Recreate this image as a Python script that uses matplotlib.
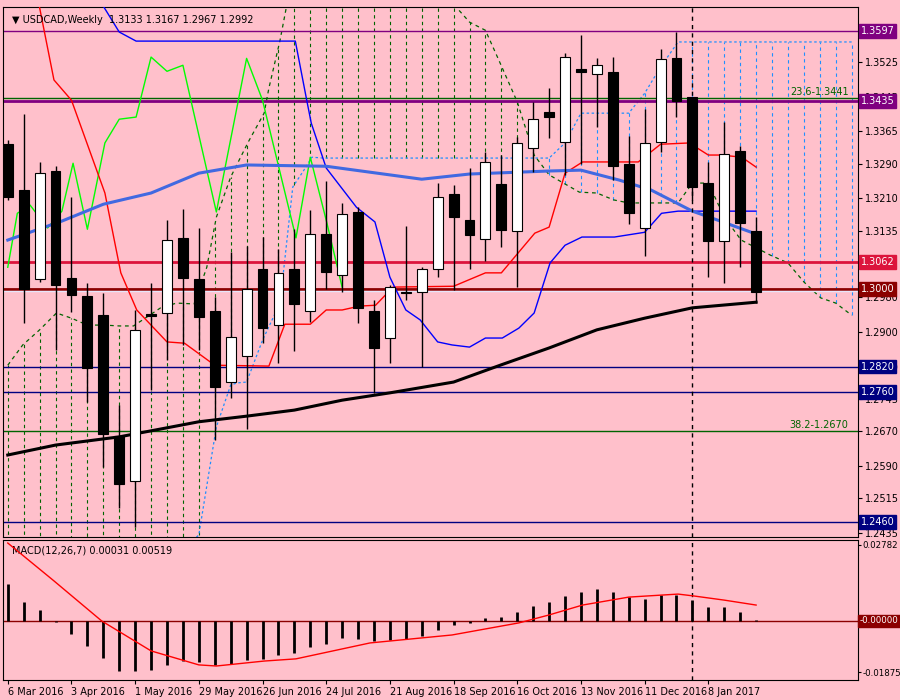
import matplotlib
matplotlib.use("Agg")
import matplotlib.pyplot as plt
import numpy as np

plt.rcParams["font.family"] = ["DejaVu Sans"]
plt.rcParams["font.size"] = 7

PINK = "#FFC0CB"

# weekly candles, bar 0 = week of 6 Mar 2016
opens = [1.3335, 1.3229, 1.3023, 1.3273, 1.3025, 1.2983, 1.2939, 1.2659, 1.2555, 1.2942,
         1.2944, 1.3118, 1.3023, 1.2949, 1.2784, 1.2844, 1.3046, 1.2916, 1.3046, 1.2949,
         1.3127, 1.3032, 1.3178, 1.2949, 1.2886, 1.2993, 1.2993, 1.3046, 1.3220, 1.3159,
         1.3115, 1.3243, 1.3134, 1.3326, 1.3409, 1.3340, 1.3509, 1.3497, 1.3502, 1.3289,
         1.3141, 1.3340, 1.3534, 1.3444, 1.3245, 1.3111, 1.3319, 1.3133]
highs = [1.3345, 1.3405, 1.3294, 1.3284, 1.3213, 1.3013, 1.2990, 1.2731, 1.2951, 1.3013,
         1.3159, 1.3185, 1.3141, 1.2981, 1.3085, 1.3099, 1.3120, 1.3092, 1.3138, 1.3182,
         1.3250, 1.3199, 1.3189, 1.2974, 1.3009, 1.3145, 1.3050, 1.3245, 1.3240, 1.3280,
         1.3317, 1.3310, 1.3352, 1.3433, 1.3465, 1.3546, 1.3588, 1.3534, 1.3537, 1.3354,
         1.3416, 1.3555, 1.3595, 1.3444, 1.3294, 1.3386, 1.3331, 1.3167]
lows = [1.3206, 1.2921, 1.3016, 1.2858, 1.2946, 1.2738, 1.2587, 1.2492, 1.2448, 1.2766,
        1.2835, 1.2870, 1.2858, 1.2650, 1.2747, 1.2675, 1.2874, 1.2828, 1.2856, 1.2923,
        1.2999, 1.2993, 1.2921, 1.2759, 1.2828, 1.2974, 1.2819, 1.3027, 1.2997, 1.3046,
        1.3064, 1.3097, 1.3004, 1.3270, 1.3349, 1.3264, 1.3289, 1.3375, 1.3252, 1.3150,
        1.3076, 1.3317, 1.3398, 1.3206, 1.3027, 1.3013, 1.3050, 1.2967]
closes = [1.3213, 1.2999, 1.3268, 1.3009, 1.2986, 1.2817, 1.2664, 1.2548, 1.2905, 1.2937,
          1.3113, 1.3025, 1.2935, 1.2773, 1.2888, 1.2999, 1.2909, 1.3037, 1.2965, 1.3127,
          1.3039, 1.3173, 1.2956, 1.2863, 1.3004, 1.2990, 1.3046, 1.3213, 1.3166, 1.3125,
          1.3294, 1.3136, 1.3338, 1.3393, 1.3398, 1.3537, 1.3502, 1.3518, 1.3284, 1.3175,
          1.3338, 1.3532, 1.3435, 1.3236, 1.3111, 1.3312, 1.3152, 1.2992]

# indicator lines as (bar index, price) vertices
ma_black_x = [0, 3, 7, 12, 15, 18, 21, 24, 28, 31, 34, 37, 40, 43, 47]
ma_black_y = [1.2615, 1.2638, 1.2657, 1.2692, 1.2705, 1.2719, 1.2742, 1.2759, 1.2784, 1.2824,
              1.2863, 1.2905, 1.2932, 1.2956, 1.2969]
ma_blue_x = [0, 3.4, 6, 9, 12, 15, 20, 26, 29, 34, 36, 38.4, 40.4, 43, 44.6, 46.7]
ma_blue_y = [1.3113, 1.3157, 1.3196, 1.3222, 1.3268, 1.3287, 1.3284, 1.3254, 1.3266, 1.3273,
             1.3275, 1.3252, 1.3229, 1.3180, 1.3159, 1.3131]
tenkan_x = [1.9, 2.9, 4.0, 6.1, 7.1, 8.1, 10.0, 11.1, 13, 16.4, 17.4, 19, 20, 21, 22.1, 23.1,
            24.2, 28, 30, 31, 33.1, 34, 35, 36.1, 39.6, 41, 42.8, 44, 44.8, 46.1, 47]
tenkan_y = [1.3670, 1.3484, 1.3437, 1.3222, 1.3037, 1.2951, 1.2877, 1.2874, 1.2823, 1.2821,
            1.2918, 1.2918, 1.2951, 1.2951, 1.2960, 1.2962, 1.3004, 1.3006, 1.3037, 1.3037,
            1.3129, 1.3143, 1.3268, 1.3294, 1.3294, 1.3335, 1.3338, 1.3310, 1.3310, 1.3305, 1.3282]
kijun_x = [5.75, 7, 8.06, 18.06, 18.75, 19.06, 20, 21.9, 23.06, 24, 25, 25.9, 27, 27.9, 29, 30,
           31.06, 32.1, 33.06, 34.06, 35, 36.06, 38.1, 40, 41.06, 42.1, 47]
kijun_y = [1.3670, 1.3595, 1.3574, 1.3574, 1.3442, 1.3384, 1.3280, 1.3189, 1.3155, 1.3027,
           1.2951, 1.2928, 1.2877, 1.2870, 1.2865, 1.2886, 1.2886, 1.2909, 1.2944, 1.3060,
           1.3101, 1.3120, 1.3120, 1.3131, 1.3175, 1.3180, 1.3180]
chikou_x = [0, 0.6, 1.4, 2.5, 3.4, 4.1, 5, 6.1, 7, 8.06, 9, 10, 11, 13.1, 15, 16, 18.1, 19, 20, 21]
chikou_y = [1.3050, 1.3175, 1.3194, 1.3141, 1.3180, 1.3291, 1.3138, 1.3338, 1.3393, 1.3398,
            1.3537, 1.3504, 1.3518, 1.3178, 1.3534, 1.3437, 1.3118, 1.3305, 1.3159, 1.3004]
span_a_x = [0, 12, 13.1, 14, 14.4, 15, 16, 17.1, 17.9, 18.6, 19.1, 19.8, 27.9, 34, 35, 36, 39,
            40, 41, 42.1, 53]
span_a_y = [1.2000, 1.2430, 1.2680, 1.2777, 1.2782, 1.2784, 1.2881, 1.2967, 1.3236, 1.3275,
            1.3305, 1.3303, 1.3303, 1.3303, 1.3338, 1.3407, 1.3407, 1.3453, 1.3514, 1.3572, 1.3572]
span_b_x = [0, 0.94, 2, 3.06, 4, 5, 6.06, 7, 7.9, 9.6, 10.6, 11.7, 12.5, 13.1, 14, 15.1, 16.1,
            16.4, 17.1, 17.5, 19, 26, 28.06, 29, 30, 30.9, 32, 33.06, 34, 35.9, 37, 38.06, 39,
            42.1, 43, 44, 45, 46.06, 47.9, 49, 50, 51.06, 52, 53]
span_b_y = [1.2823, 1.2870, 1.2905, 1.2944, 1.2932, 1.2916, 1.2916, 1.2914, 1.2914, 1.2956,
            1.2967, 1.2965, 1.3050, 1.3166, 1.3259, 1.3340, 1.3407, 1.3465, 1.3576, 1.3653,
            1.3750, 1.3750, 1.3657, 1.3618, 1.3599, 1.3525, 1.3433, 1.3310, 1.3264, 1.3224,
            1.3222, 1.3206, 1.3199, 1.3199, 1.3245, 1.3245, 1.3166, 1.3113, 1.3078, 1.3060,
            1.3016, 1.2979, 1.2967, 1.2939]

# MACD(12,26,7)
macd_hist = [0.0135, 0.0069, 0.0040, -0.0005, -0.0047, -0.0091, -0.0135, -0.0182, -0.0182, -0.0178,
             -0.0160, -0.0146, -0.0149, -0.0160, -0.0156, -0.0142, -0.0140, -0.0124, -0.0118, -0.0095,
             -0.0084, -0.0062, -0.0064, -0.0073, -0.0069, -0.0064, -0.0053, -0.0032, -0.0016, -0.0008,
             0.0012, 0.0016, 0.0034, 0.0056, 0.0070, 0.0092, 0.0107, 0.0118, 0.0107, 0.0086,
             0.0081, 0.0093, 0.0096, 0.0078, 0.0052, 0.0052, 0.0034, 0.0003]
signal_x = [0, 2.9, 5.9, 9, 12, 13.1, 16.1, 18.1, 22.75, 27.9, 32.1, 34, 36.1, 39, 42.1, 43.1, 45, 47]
signal_y = [0.0284, 0.0146, 0.0, -0.0109, -0.0160, -0.0164, -0.0146, -0.0138, -0.0080, -0.0051,
            -0.0007, 0.0022, 0.0058, 0.0087, 0.0098, 0.0091, 0.0076, 0.0058]

date_pos = [0, 4, 8, 12, 16, 20, 24, 28, 32, 36, 40, 44]
date_labels = ["6 Mar 2016", "3 Apr 2016", "1 May 2016", "29 May 2016", "26 Jun 2016",
               "24 Jul 2016", "21 Aug 2016", "18 Sep 2016", "16 Oct 2016", "13 Nov 2016",
               "11 Dec 2016", "8 Jan 2017"]
price_ticks = [1.3525, 1.3445, 1.3365, 1.3290, 1.3210, 1.3135, 1.3055, 1.2980, 1.2900,
               1.2820, 1.2745, 1.2670, 1.2590, 1.2515, 1.2435]

# horizontal levels: price, colour, width, box label
levels = [(1.3597, "#800080", 1.0, "1.3597"), (1.3435, "#800080", 2.0, "1.3435"),
          (1.3062, "#DC143C", 2.0, "1.3062"), (1.3000, "#8B0000", 2.0, "1.3000"),
          (1.2820, "#000080", 1.0, "1.2820"), (1.2760, "#000080", 1.0, "1.2760"),
          (1.2460, "#000080", 1.0, "1.2460")]
fibo = [(1.3441, "23.6-1.3441"), (1.2670, "38.2-1.2670")]

fig = plt.figure(figsize=(9, 7), dpi=100, facecolor=PINK)
ax = fig.add_axes([3 / 900, 1 - 537 / 700, 855 / 900, 530 / 700], facecolor=PINK)
mx = fig.add_axes([3 / 900, 1 - 680 / 700, 855 / 900, 140 / 700], facecolor=PINK)
xlim = (-0.3, 53.4)

# cloud hatching
for i in range(0, 54):
    a = np.interp(i, span_a_x, span_a_y)
    b = np.interp(i, span_b_x, span_b_y)
    col = "#1E90FF" if a > b else "#006400"
    ax.vlines(i, min(a, b), max(a, b), colors=col, linestyles=(0, (3, 3)), lw=0.8, zorder=1)
ax.plot(span_a_x, span_a_y, color="#1E90FF", ls=(0, (2, 2)), lw=0.9, zorder=2)
ax.plot(span_b_x, span_b_y, color="#006400", ls=(0, (3, 3)), lw=0.9, zorder=2)

for p, c, w, lab in levels:
    ax.axhline(p, color=c, lw=w, zorder=2)
ax.axhline(1.2995, color="#E6E6FA", lw=1, zorder=2)
for p, lab in fibo:
    ax.axhline(p, color="#006400", lw=1, zorder=2)
    ax.text(52.8, p + 0.0004, lab, color="#006400", ha="right", va="bottom", zorder=6)

ax.plot(chikou_x, chikou_y, color="#00FF00", lw=1, zorder=3)
ax.plot(tenkan_x, tenkan_y, color="red", lw=1, zorder=3)
ax.plot(kijun_x, kijun_y, color="blue", lw=1, zorder=3)
ax.plot(ma_blue_x, ma_blue_y, color="#4169E1", lw=2.2, zorder=3)
ax.plot(ma_black_x, ma_black_y, color="black", lw=2.2, zorder=3)

for i in range(len(opens)):
    o, h, l, c = opens[i], highs[i], lows[i], closes[i]
    ax.vlines(i, l, h, colors="black", lw=1, zorder=4)
    face = "white" if c >= o else "black"
    ax.bar(i, max(abs(c - o), 0.0002), bottom=min(o, c), width=0.62, color=face,
           edgecolor="black", lw=0.8, zorder=5)

ax.axvline(43, color="black", ls=(0, (3, 3)), lw=1, zorder=3)
ax.set_xlim(*xlim)
ax.set_ylim(1.2425, 1.3653)
ax.set_xticks([])
ax.yaxis.tick_right()
ax.set_yticks(price_ticks)
ax.set_yticklabels(["%.4f" % t for t in price_ticks])
ax.tick_params(axis="y", length=3, pad=2)
for p, c, w, lab in levels:
    ax.text(1.003, p, lab, transform=ax.get_yaxis_transform(), color="white", va="center",
            ha="left", zorder=7, bbox=dict(boxstyle="square,pad=0.2", fc=c, ec=c))
ax.text(0.01, 0.985, "\u25bc USDCAD,Weekly  1.3133 1.3167 1.2967 1.2992", transform=ax.transAxes,
        va="top", ha="left")

# MACD panel
idx = np.arange(len(macd_hist))
mx.vlines(idx, 0, macd_hist, colors="black", lw=2, zorder=3)
mx.axhline(0, color="#8B0000", lw=1, zorder=2)
mx.plot(signal_x, signal_y, color="red", lw=1, zorder=4)
mx.axvline(43, color="black", ls=(0, (3, 3)), lw=1)
mx.set_xlim(*xlim)
mx.set_ylim(-0.0215, 0.0295)
mx.yaxis.tick_right()
mx.set_yticks([0.02782, -0.01875])
mx.set_yticklabels(["0.02782", "-0.01875"], fontsize=6.2)
mx.tick_params(axis="y", length=2, pad=1)
mx.text(1.002, 0, "-0.00000", transform=mx.get_yaxis_transform(), color="white", va="center",
        ha="left", fontsize=6.2, bbox=dict(boxstyle="square,pad=0.15", fc="#8B0000", ec="#8B0000"))
mx.text(0.01, 0.96, "MACD(12,26,7) 0.00031 0.00519", transform=mx.transAxes, va="top", ha="left")
mx.set_xticks(date_pos)
mx.set_xticklabels(date_labels, ha="left")
mx.tick_params(axis="x", length=3, pad=2)

fig.savefig("out.png", dpi=100, facecolor=PINK)
